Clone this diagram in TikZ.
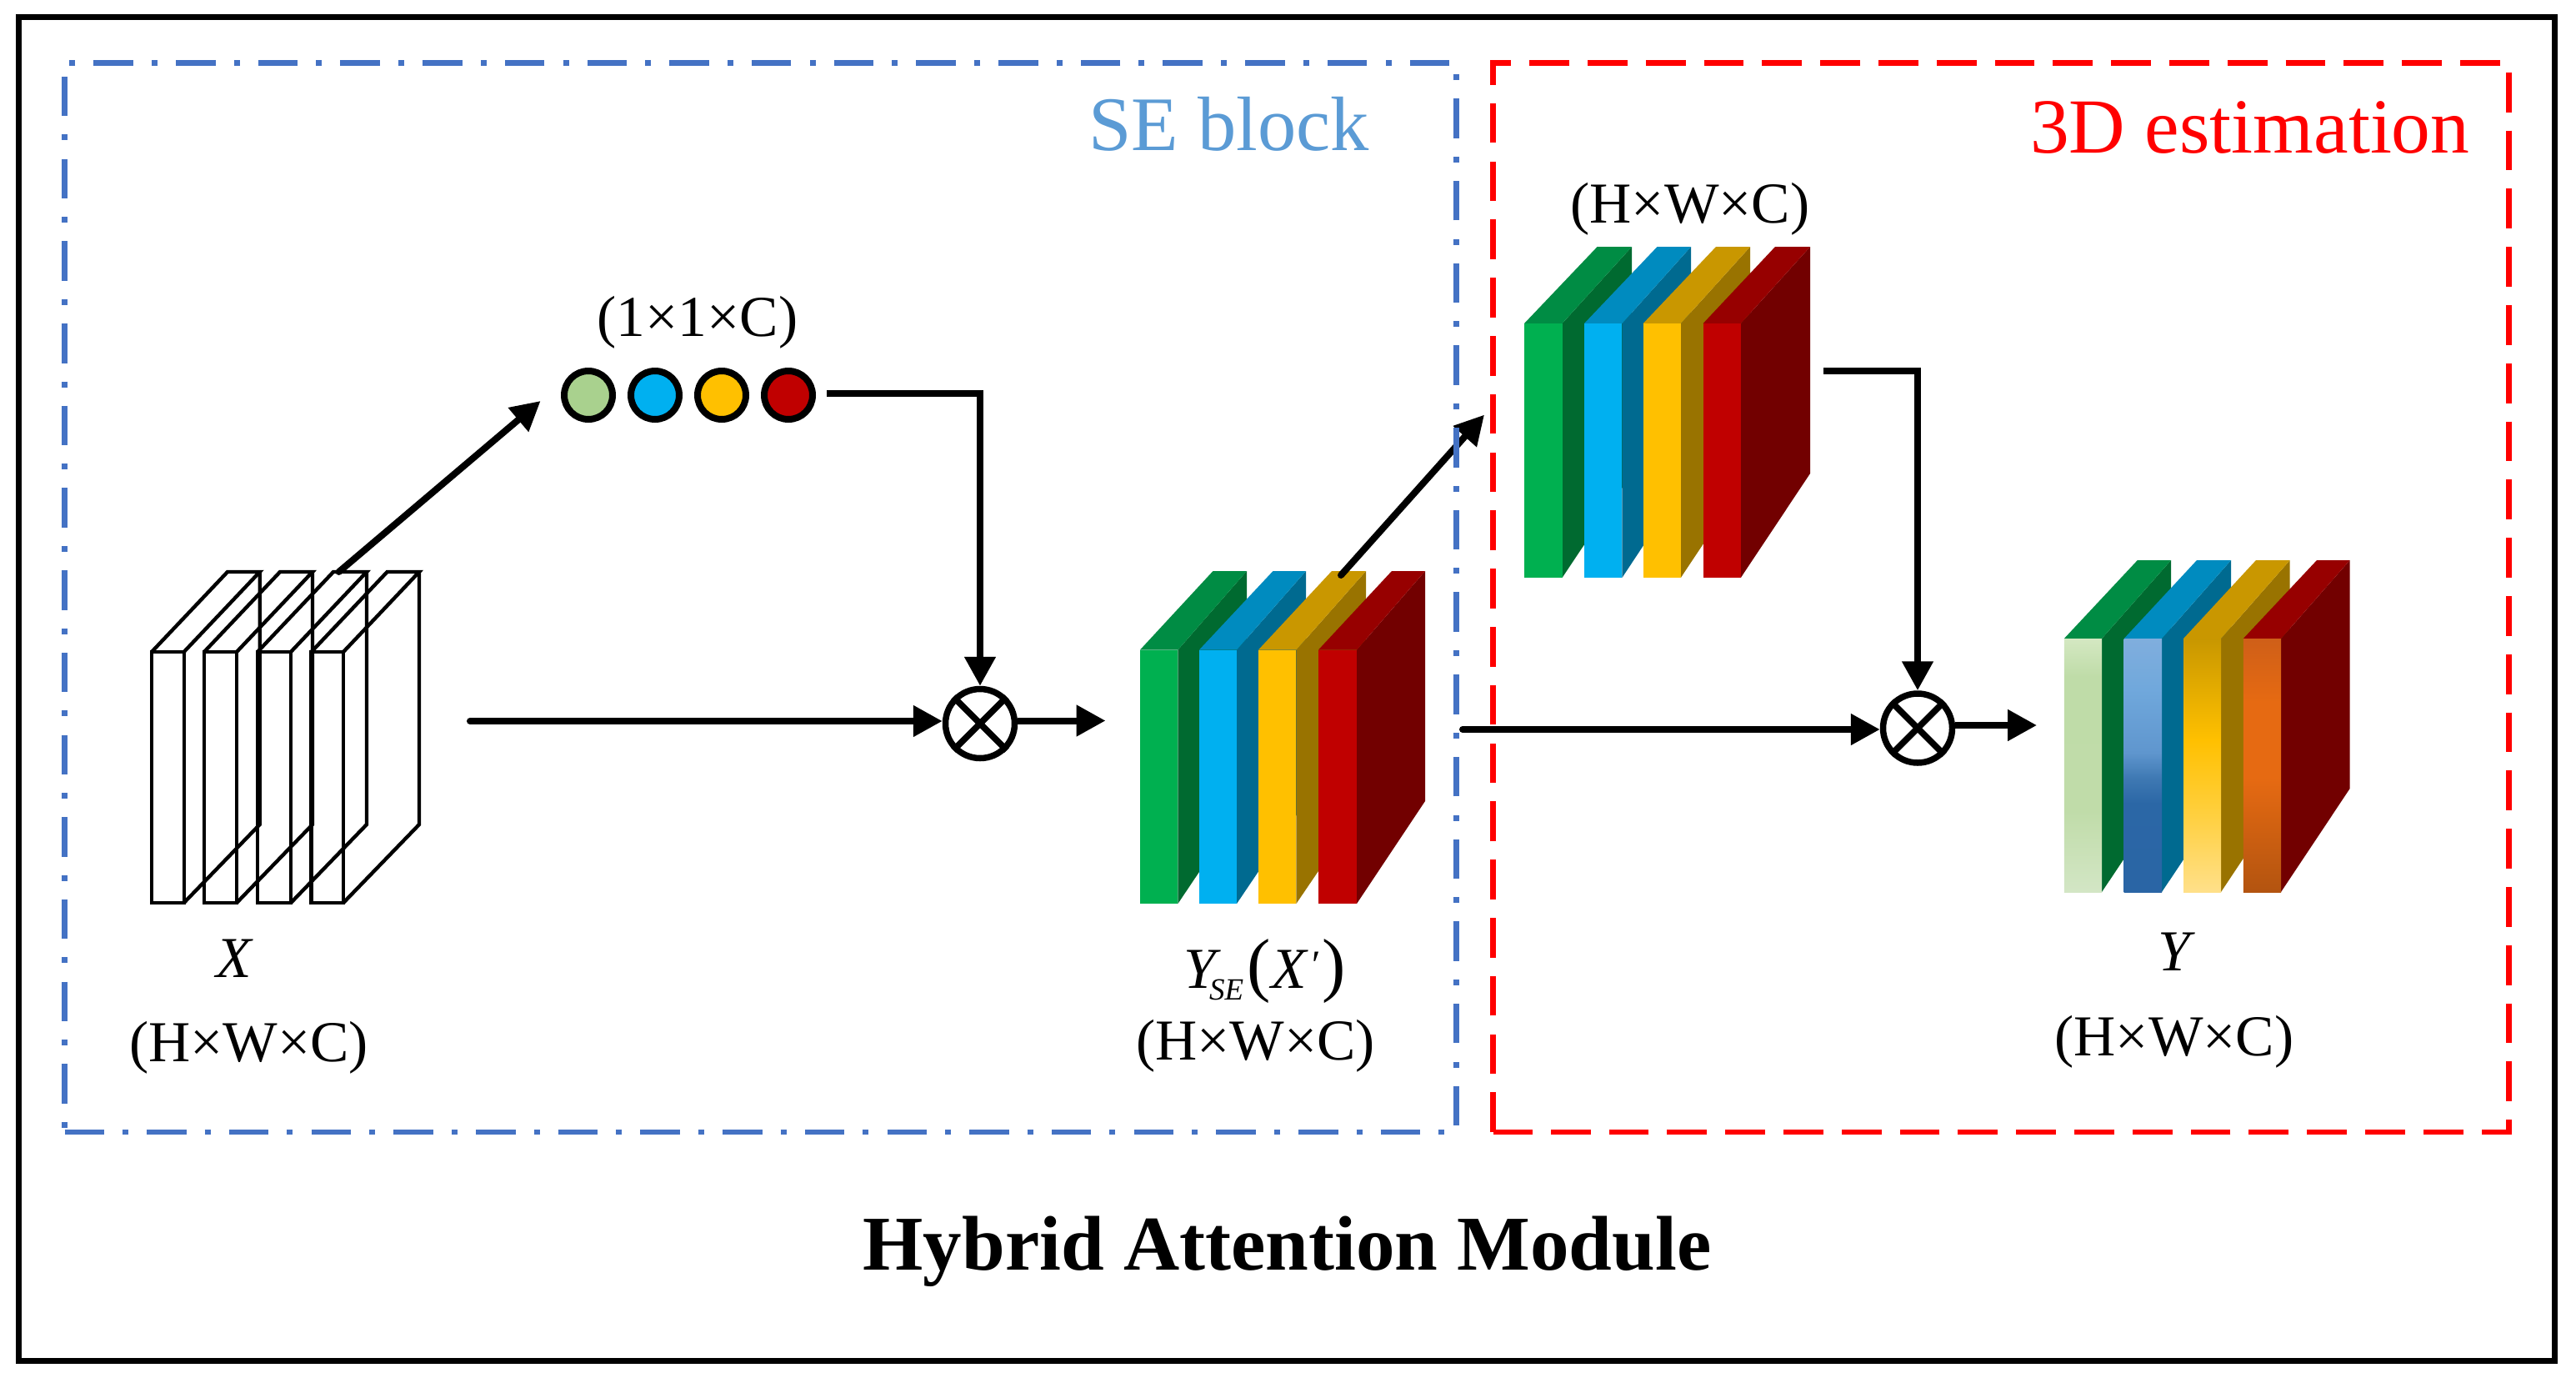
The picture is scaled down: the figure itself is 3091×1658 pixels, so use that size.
\documentclass[tikz,border=0pt]{standalone}
\usepackage{fontspec}
\setmainfont{Liberation Serif}
\usetikzlibrary{arrows.meta,calc}
\definecolor{gF}{HTML}{00B050}\definecolor{gS}{HTML}{006A30}\definecolor{gT}{HTML}{008C44}
\definecolor{bF}{HTML}{00B0F0}\definecolor{bS}{HTML}{006A90}\definecolor{bT}{HTML}{008BBF}
\definecolor{yF}{HTML}{FFC000}\definecolor{yS}{HTML}{997300}\definecolor{yT}{HTML}{C99700}
\definecolor{rF}{HTML}{C00000}\definecolor{rS}{HTML}{720000}\definecolor{rT}{HTML}{970000}
\definecolor{cG}{HTML}{A9D18E}
\definecolor{seblue}{HTML}{4472C4}\definecolor{selabel}{HTML}{5B9BD5}
\definecolor{la}{HTML}{D4E8C2}\definecolor{lb}{HTML}{BFDCA8}\definecolor{lc}{HTML}{C0DCA9}\definecolor{ld}{HTML}{D3E6C5}
\definecolor{ma}{HTML}{80AEDD}\definecolor{mb}{HTML}{70A8DC}\definecolor{mc}{HTML}{5F96CE}\definecolor{md}{HTML}{3F79B3}\definecolor{me}{HTML}{2B67A6}\definecolor{mf}{HTML}{2A65A5}
\definecolor{na}{HTML}{C89700}\definecolor{nb}{HTML}{FFC000}\definecolor{nc}{HTML}{FFD040}\definecolor{nd}{HTML}{FFE08A}
\definecolor{oa}{HTML}{CF5F18}\definecolor{ob}{HTML}{E66A12}\definecolor{oc}{HTML}{B35410}
\pgfdeclareverticalshading{gradL}{100bp}{color(0bp)=(ld); color(25bp)=(ld); color(41bp)=(lc); color(67.5bp)=(lb); color(75bp)=(la); color(100bp)=(la)}
\pgfdeclareverticalshading{gradM}{100bp}{color(0bp)=(mf); color(25bp)=(mf); color(42.5bp)=(me); color(47.5bp)=(md); color(52.5bp)=(mc); color(65bp)=(mb); color(75bp)=(ma); color(100bp)=(ma)}
\pgfdeclareverticalshading{gradN}{100bp}{color(0bp)=(nd); color(25bp)=(nd); color(40bp)=(nc); color(55bp)=(nb); color(75bp)=(na); color(100bp)=(na)}
\pgfdeclareverticalshading{gradO}{100bp}{color(0bp)=(oc); color(25bp)=(oc); color(47.5bp)=(ob); color(62.5bp)=(ob); color(75bp)=(oa); color(100bp)=(oa)}
\newcommand{\slabgeo}[4]{\def\yT{#1}\def\yB{#2}\def\yBT{#3}\def\yBB{#4}}
% x1 x2 back-left back-right colour-prefix
\newcommand{\slab}[5]{%
  \fill[#5S] (#2,\yT) -- (#4,\yBT) -- (#4,\yBB) -- (#2,\yB) -- cycle;
  \fill[#5T] (#1,\yT) -- (#3,\yBT) -- (#4,\yBT) -- (#2,\yT) -- cycle;
  \fill[#5F] (#1,\yT) rectangle (#2,\yB);}
\newcommand{\gslab}[6]{%
  \fill[#5S] (#2,\yT) -- (#4,\yBT) -- (#4,\yBB) -- (#2,\yB) -- cycle;
  \fill[#5T] (#1,\yT) -- (#3,\yBT) -- (#4,\yBT) -- (#2,\yT) -- cycle;
  \shade[shading=#6] (#1,\yT) rectangle (#2,\yB);}
\newcommand{\wire}[2]{%
  \draw[wire] (#1,782) rectangle (#2,1083);
  \draw[wire] (#1,782) -- ($(#1,782)+(91,-96)$) -- ($(#2,782)+(91,-96)$) -- (#2,782);
  \draw[wire] ($(#2,782)+(91,-96)$) -- ($(#2,1083)+(91,-94)$) -- (#2,1083);}
\tikzset{
  wire/.style={line width=4.4pt,line join=miter},
  conn/.style={line width=8pt,line join=miter},
  arr/.style={conn,line cap=round,-{Triangle[length=35pt,width=36pt]}},
  lbl/.style={font=\fontsize{69.5}{69.5}\selectfont,inner sep=0pt,anchor=base},
  dot/.style={circle,draw=black,line width=8pt,minimum size=58pt,inner sep=0pt},
  otimes/.style={circle,draw=black,fill=white,line width=7.5pt,minimum size=83pt,inner sep=0pt,
    append after command={
      (\tikzlastnode.45) edge[line width=7.5pt,line cap=butt] (\tikzlastnode.225)
      (\tikzlastnode.135) edge[line width=7.5pt,line cap=butt] (\tikzlastnode.315)}},
}
\begin{document}
\begin{tikzpicture}[x=1pt,y=-1pt]
\useasboundingbox (0,0) rectangle (3091,1658);
% X wire block
\wire{182}{220.7}\wire{245}{284}\wire{309}{349}\wire{373.6}{412}
% block Y_SE
\slabgeo{779.5}{1084}{685}{961}
\slab{1368}{1413.4}{1455.5}{1496}{g}
\slab{1439}{1484}{1527.5}{1567}{b}
\slab{1510}{1555.4}{1598}{1639}{y}
\slab{1582}{1628}{1670}{1710}{r}
% block 3D top
\slabgeo{388}{693}{296}{568}
\slab{1829}{1874.5}{1916.6}{1958}{g}
\slab{1901}{1946.4}{1988.5}{2029}{b}
\slab{1971.7}{2016.8}{2059}{2100}{y}
\slab{2043.6}{2088.8}{2130}{2172}{r}
% block Y
\slabgeo{766}{1070}{672}{946}
\gslab{2476.8}{2522}{2564.8}{2605}{g}{gradL}
\gslab{2548.7}{2594}{2636}{2677}{b}{gradM}
\gslab{2620}{2665}{2707}{2747.7}{y}{gradN}
\gslab{2691.8}{2737}{2780}{2819.6}{r}{gradO}
% pooled circles
\node[dot,fill=cG] (c1) at (706,474) {};
\node[dot,fill=bF] (c2) at (786,474) {};
\node[dot,fill=yF] (c3) at (866,474) {};
\node[dot,fill=rF] (c4) at (946,474) {};
% multiply nodes
\node[otimes] (ot1) at (1176,868) {};
\node[otimes] (ot2) at (2301,873.5) {};
% connector ends
\coordinate (xa) at (406.6,686);
\coordinate (xb) at (648.6,481);
\coordinate (ca) at (992,472);
\coordinate (xc) at (564,865);
\coordinate (oa1) at (1326.5,864.5);
\coordinate (sa) at (1609,690);
\coordinate (sb) at (1781,497.6);
\coordinate (sc) at (1755,875);
\coordinate (da) at (2188,445);
\coordinate (ob1) at (2444,870);
% connectors
\draw[arr] (xa) -- (xb);
\draw[conn,line cap=butt,-{Triangle[length=35pt,width=36pt]}] (ca) -- (ca -| ot1.north) -- (ot1.north);
\draw[arr] (xc) -- (xc -| ot1.west);
\draw[conn,line cap=butt,-{Triangle[length=35pt,width=36pt]}] (ot1.east |- oa1) -- (oa1);
\draw[arr] (sa) -- (sb);
\draw[arr] (sc) -- (sc -| ot2.west);
\draw[conn,line cap=butt,-{Triangle[length=35pt,width=36pt]}] (da) -- (da -| ot2.north) -- (ot2.north);
\draw[conn,line cap=butt,-{Triangle[length=35pt,width=36pt]}] (ot2.east |- ob1) -- (ob1);
% frames
\draw[seblue,line width=6.7pt,dash pattern=on 47.5pt off 22pt on 7pt off 22.2pt,line join=miter]
  (77.5,1358) -- (1747.5,1358) -- (1747.5,75.5) -- (77.5,75.5) -- cycle;
\draw[red,line width=6.7pt,dash pattern=on 47.7pt off 22.1pt,line join=miter]
  (1791.5,1358) -- (1791.5,75.5) -- (3010.5,75.5) -- (3010.5,1358) -- cycle;
\draw[black,line width=7pt,line join=miter] (22.5,20.5) rectangle (3065.5,1632.5);
% labels
\node[font=\fontsize{92.5}{92.5}\selectfont,inner sep=0pt,anchor=base,text=selabel] (tse) at (1474.5,180.7) {SE block};
\node[font=\fontsize{93.5}{93.5}\selectfont,inner sep=0pt,anchor=base,text=red] (t3d) at (2699.8,183) {3D estimation};
\node[lbl] (tc) at (837,403) {(1×1×C)};
\node[lbl] (tx) at (282,1172) {\textit{X}};
\node[lbl] (txd) at (298.5,1273) {(H×W×C)};
\node[lbl,anchor=base west] (tys) at (1420,1185) {\raisebox{0pt}[\height][0pt]{\textit{Y}\hspace{-14pt}\raisebox{-14pt}{\fontsize{37}{37}\selectfont\textit{SE}}\hspace{4pt}{\fontsize{85}{85}\selectfont(}\hspace{1pt}\textit{X}\hspace{1pt}\raisebox{12pt}{\fontsize{48}{48}\selectfont\textit{′}}\hspace{4pt}{\fontsize{85}{85}\selectfont)}}};
\node[lbl] (tsd) at (1506.5,1271) {(H×W×C)};
\node[lbl] (ttd) at (2028,267) {(H×W×C)};
\node[lbl] (ty) at (2612,1164.6) {\textit{Y}};
\node[lbl] (tyd) at (2609,1266.5) {(H×W×C)};
\node[font=\bfseries\fontsize{93}{93}\selectfont,inner sep=0pt,anchor=base] (title) at (1544.5,1523) {Hybrid Attention Module};
\end{tikzpicture}
\end{document}
